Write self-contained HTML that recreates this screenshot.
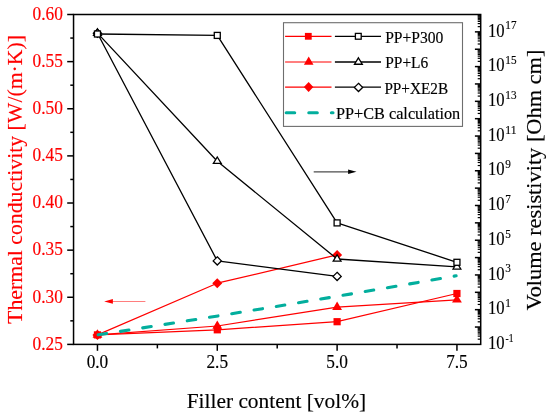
<!DOCTYPE html>
<html><head><meta charset="utf-8"><style>
html,body{margin:0;padding:0;background:#fff;width:550px;height:419px;overflow:hidden}
body{position:relative}
</style></head><body>
<svg width="550" height="419" viewBox="0 0 550 419" style="position:absolute;left:0;top:0">
<polyline points="97.46,334.90 217.28,329.80 337.11,321.70 456.94,293.50" fill="none" stroke="#ff0000" stroke-width="1.2" stroke-linejoin="round"/>
<polyline points="97.46,334.90 217.28,326.00 337.11,307.10 456.94,299.80" fill="none" stroke="#ff0000" stroke-width="1.2" stroke-linejoin="round"/>
<polyline points="97.46,334.90 217.28,283.20 337.11,254.90" fill="none" stroke="#ff0000" stroke-width="1.2" stroke-linejoin="round"/>
<rect x="93.86" y="331.30" width="7.20" height="7.20" fill="#ff0000"/>
<rect x="213.69" y="326.20" width="7.20" height="7.20" fill="#ff0000"/>
<rect x="333.51" y="318.10" width="7.20" height="7.20" fill="#ff0000"/>
<rect x="453.33" y="289.90" width="7.20" height="7.20" fill="#ff0000"/>
<polygon points="97.46,329.30 102.36,337.70 92.56,337.70" fill="#ff0000"/>
<polygon points="217.28,320.40 222.19,328.80 212.38,328.80" fill="#ff0000"/>
<polygon points="337.11,301.50 342.01,309.90 332.21,309.90" fill="#ff0000"/>
<polygon points="456.94,294.20 461.83,302.60 452.04,302.60" fill="#ff0000"/>
<polygon points="97.46,329.90 102.46,334.90 97.46,339.90 92.46,334.90" fill="#ff0000"/>
<polygon points="217.28,278.20 222.28,283.20 217.28,288.20 212.28,283.20" fill="#ff0000"/>
<polygon points="337.11,249.90 342.11,254.90 337.11,259.90 332.11,254.90" fill="#ff0000"/>
<path d="M97.46,334.9 Q276.8,307.3 456.1,275.8" fill="none" stroke="#02ae9d" stroke-width="3.1" stroke-linecap="round" stroke-dasharray="8.6 13.95" stroke-dashoffset="-0.7"/>
<polyline points="97.46,33.30 217.28,260.90 337.11,276.40" fill="none" stroke="#000" stroke-width="1.3" stroke-linejoin="round"/>
<polygon points="97.46,29.20 101.56,33.30 97.46,37.40 93.36,33.30" fill="#fff" stroke="#000" stroke-width="1.3"/>
<polygon points="217.28,256.80 221.38,260.90 217.28,265.00 213.19,260.90" fill="#fff" stroke="#000" stroke-width="1.3"/>
<polygon points="337.11,272.30 341.21,276.40 337.11,280.50 333.01,276.40" fill="#fff" stroke="#000" stroke-width="1.3"/>
<polyline points="97.46,33.10 217.28,161.30 337.11,259.00 456.94,266.90" fill="none" stroke="#000" stroke-width="1.3" stroke-linejoin="round"/>
<polygon points="97.46,28.83 101.36,35.23 93.56,35.23" fill="#fff" stroke="#000" stroke-width="1.3" stroke-linejoin="miter"/>
<polygon points="217.28,157.03 221.19,163.43 213.38,163.43" fill="#fff" stroke="#000" stroke-width="1.3" stroke-linejoin="miter"/>
<polygon points="337.11,254.73 341.01,261.13 333.21,261.13" fill="#fff" stroke="#000" stroke-width="1.3" stroke-linejoin="miter"/>
<polygon points="456.94,262.63 460.83,269.03 453.04,269.03" fill="#fff" stroke="#000" stroke-width="1.3" stroke-linejoin="miter"/>
<polyline points="97.46,34.00 217.28,35.40 337.11,222.90 456.94,262.30" fill="none" stroke="#000" stroke-width="1.3" stroke-linejoin="round"/>
<rect x="94.46" y="31.00" width="6.00" height="6.00" fill="#fff" stroke="#000" stroke-width="1.3"/>
<rect x="214.28" y="32.40" width="6.00" height="6.00" fill="#fff" stroke="#000" stroke-width="1.3"/>
<rect x="334.11" y="219.90" width="6.00" height="6.00" fill="#fff" stroke="#000" stroke-width="1.3"/>
<rect x="453.94" y="259.30" width="6.00" height="6.00" fill="#fff" stroke="#000" stroke-width="1.3"/>
<line x1="145.4" y1="301.45" x2="111" y2="301.45" stroke="#ff0000" stroke-width="1.1" opacity="0.5"/>
<polygon points="104.2,301.45 112.9,299.1 112.9,303.8" fill="#ff0000"/>
<line x1="313.7" y1="171.8" x2="350" y2="171.8" stroke="#000" stroke-width="1.3" opacity="0.7"/>
<polygon points="356.5,171.8 348.1,169.6 348.1,174.0" fill="#000"/>
<rect x="73.55" y="14.5" width="407.15" height="329.90" fill="none" stroke="#000" stroke-width="1.5"/>
<line x1="67.2" y1="344.40" x2="73.55" y2="344.40" stroke="#000" stroke-width="1.5"/>
<line x1="67.2" y1="297.27" x2="73.55" y2="297.27" stroke="#000" stroke-width="1.5"/>
<line x1="67.2" y1="250.14" x2="73.55" y2="250.14" stroke="#000" stroke-width="1.5"/>
<line x1="67.2" y1="203.01" x2="73.55" y2="203.01" stroke="#000" stroke-width="1.5"/>
<line x1="67.2" y1="155.89" x2="73.55" y2="155.89" stroke="#000" stroke-width="1.5"/>
<line x1="67.2" y1="108.76" x2="73.55" y2="108.76" stroke="#000" stroke-width="1.5"/>
<line x1="67.2" y1="61.63" x2="73.55" y2="61.63" stroke="#000" stroke-width="1.5"/>
<line x1="67.2" y1="14.50" x2="73.55" y2="14.50" stroke="#000" stroke-width="1.5"/>
<line x1="70.3" y1="320.84" x2="73.55" y2="320.84" stroke="#000" stroke-width="1.5"/>
<line x1="70.3" y1="273.71" x2="73.55" y2="273.71" stroke="#000" stroke-width="1.5"/>
<line x1="70.3" y1="226.58" x2="73.55" y2="226.58" stroke="#000" stroke-width="1.5"/>
<line x1="70.3" y1="179.45" x2="73.55" y2="179.45" stroke="#000" stroke-width="1.5"/>
<line x1="70.3" y1="132.32" x2="73.55" y2="132.32" stroke="#000" stroke-width="1.5"/>
<line x1="70.3" y1="85.19" x2="73.55" y2="85.19" stroke="#000" stroke-width="1.5"/>
<line x1="70.3" y1="38.06" x2="73.55" y2="38.06" stroke="#000" stroke-width="1.5"/>
<line x1="97.46" y1="344.4" x2="97.46" y2="350.8" stroke="#000" stroke-width="1.5"/>
<line x1="217.28" y1="344.4" x2="217.28" y2="350.8" stroke="#000" stroke-width="1.5"/>
<line x1="337.11" y1="344.4" x2="337.11" y2="350.8" stroke="#000" stroke-width="1.5"/>
<line x1="456.94" y1="344.4" x2="456.94" y2="350.8" stroke="#000" stroke-width="1.5"/>
<line x1="157.37" y1="344.4" x2="157.37" y2="348.4" stroke="#000" stroke-width="1.5"/>
<line x1="277.20" y1="344.4" x2="277.20" y2="348.4" stroke="#000" stroke-width="1.5"/>
<line x1="397.02" y1="344.4" x2="397.02" y2="348.4" stroke="#000" stroke-width="1.5"/>
<line x1="477.70" y1="339.17" x2="480.7" y2="339.17" stroke="#000" stroke-width="1.2"/>
<line x1="477.70" y1="336.12" x2="480.7" y2="336.12" stroke="#000" stroke-width="1.2"/>
<line x1="477.70" y1="333.95" x2="480.7" y2="333.95" stroke="#000" stroke-width="1.2"/>
<line x1="477.70" y1="332.26" x2="480.7" y2="332.26" stroke="#000" stroke-width="1.2"/>
<line x1="477.70" y1="330.89" x2="480.7" y2="330.89" stroke="#000" stroke-width="1.2"/>
<line x1="477.70" y1="329.73" x2="480.7" y2="329.73" stroke="#000" stroke-width="1.2"/>
<line x1="477.70" y1="328.72" x2="480.7" y2="328.72" stroke="#000" stroke-width="1.2"/>
<line x1="477.70" y1="327.83" x2="480.7" y2="327.83" stroke="#000" stroke-width="1.2"/>
<line x1="474.90" y1="327.04" x2="480.7" y2="327.04" stroke="#000" stroke-width="1.5"/>
<line x1="477.70" y1="321.81" x2="480.7" y2="321.81" stroke="#000" stroke-width="1.2"/>
<line x1="477.70" y1="318.75" x2="480.7" y2="318.75" stroke="#000" stroke-width="1.2"/>
<line x1="477.70" y1="316.58" x2="480.7" y2="316.58" stroke="#000" stroke-width="1.2"/>
<line x1="477.70" y1="314.90" x2="480.7" y2="314.90" stroke="#000" stroke-width="1.2"/>
<line x1="477.70" y1="313.53" x2="480.7" y2="313.53" stroke="#000" stroke-width="1.2"/>
<line x1="477.70" y1="312.36" x2="480.7" y2="312.36" stroke="#000" stroke-width="1.2"/>
<line x1="477.70" y1="311.36" x2="480.7" y2="311.36" stroke="#000" stroke-width="1.2"/>
<line x1="477.70" y1="310.47" x2="480.7" y2="310.47" stroke="#000" stroke-width="1.2"/>
<line x1="474.90" y1="309.67" x2="480.7" y2="309.67" stroke="#000" stroke-width="1.5"/>
<line x1="477.70" y1="304.45" x2="480.7" y2="304.45" stroke="#000" stroke-width="1.2"/>
<line x1="477.70" y1="301.39" x2="480.7" y2="301.39" stroke="#000" stroke-width="1.2"/>
<line x1="477.70" y1="299.22" x2="480.7" y2="299.22" stroke="#000" stroke-width="1.2"/>
<line x1="477.70" y1="297.54" x2="480.7" y2="297.54" stroke="#000" stroke-width="1.2"/>
<line x1="477.70" y1="296.16" x2="480.7" y2="296.16" stroke="#000" stroke-width="1.2"/>
<line x1="477.70" y1="295.00" x2="480.7" y2="295.00" stroke="#000" stroke-width="1.2"/>
<line x1="477.70" y1="293.99" x2="480.7" y2="293.99" stroke="#000" stroke-width="1.2"/>
<line x1="477.70" y1="293.11" x2="480.7" y2="293.11" stroke="#000" stroke-width="1.2"/>
<line x1="474.90" y1="292.31" x2="480.7" y2="292.31" stroke="#000" stroke-width="1.5"/>
<line x1="477.70" y1="287.08" x2="480.7" y2="287.08" stroke="#000" stroke-width="1.2"/>
<line x1="477.70" y1="284.03" x2="480.7" y2="284.03" stroke="#000" stroke-width="1.2"/>
<line x1="477.70" y1="281.86" x2="480.7" y2="281.86" stroke="#000" stroke-width="1.2"/>
<line x1="477.70" y1="280.17" x2="480.7" y2="280.17" stroke="#000" stroke-width="1.2"/>
<line x1="477.70" y1="278.80" x2="480.7" y2="278.80" stroke="#000" stroke-width="1.2"/>
<line x1="477.70" y1="277.64" x2="480.7" y2="277.64" stroke="#000" stroke-width="1.2"/>
<line x1="477.70" y1="276.63" x2="480.7" y2="276.63" stroke="#000" stroke-width="1.2"/>
<line x1="477.70" y1="275.74" x2="480.7" y2="275.74" stroke="#000" stroke-width="1.2"/>
<line x1="474.90" y1="274.95" x2="480.7" y2="274.95" stroke="#000" stroke-width="1.5"/>
<line x1="477.70" y1="269.72" x2="480.7" y2="269.72" stroke="#000" stroke-width="1.2"/>
<line x1="477.70" y1="266.66" x2="480.7" y2="266.66" stroke="#000" stroke-width="1.2"/>
<line x1="477.70" y1="264.49" x2="480.7" y2="264.49" stroke="#000" stroke-width="1.2"/>
<line x1="477.70" y1="262.81" x2="480.7" y2="262.81" stroke="#000" stroke-width="1.2"/>
<line x1="477.70" y1="261.44" x2="480.7" y2="261.44" stroke="#000" stroke-width="1.2"/>
<line x1="477.70" y1="260.27" x2="480.7" y2="260.27" stroke="#000" stroke-width="1.2"/>
<line x1="477.70" y1="259.27" x2="480.7" y2="259.27" stroke="#000" stroke-width="1.2"/>
<line x1="477.70" y1="258.38" x2="480.7" y2="258.38" stroke="#000" stroke-width="1.2"/>
<line x1="474.90" y1="257.58" x2="480.7" y2="257.58" stroke="#000" stroke-width="1.5"/>
<line x1="477.70" y1="252.36" x2="480.7" y2="252.36" stroke="#000" stroke-width="1.2"/>
<line x1="477.70" y1="249.30" x2="480.7" y2="249.30" stroke="#000" stroke-width="1.2"/>
<line x1="477.70" y1="247.13" x2="480.7" y2="247.13" stroke="#000" stroke-width="1.2"/>
<line x1="477.70" y1="245.45" x2="480.7" y2="245.45" stroke="#000" stroke-width="1.2"/>
<line x1="477.70" y1="244.07" x2="480.7" y2="244.07" stroke="#000" stroke-width="1.2"/>
<line x1="477.70" y1="242.91" x2="480.7" y2="242.91" stroke="#000" stroke-width="1.2"/>
<line x1="477.70" y1="241.90" x2="480.7" y2="241.90" stroke="#000" stroke-width="1.2"/>
<line x1="477.70" y1="241.02" x2="480.7" y2="241.02" stroke="#000" stroke-width="1.2"/>
<line x1="474.90" y1="240.22" x2="480.7" y2="240.22" stroke="#000" stroke-width="1.5"/>
<line x1="477.70" y1="234.99" x2="480.7" y2="234.99" stroke="#000" stroke-width="1.2"/>
<line x1="477.70" y1="231.94" x2="480.7" y2="231.94" stroke="#000" stroke-width="1.2"/>
<line x1="477.70" y1="229.77" x2="480.7" y2="229.77" stroke="#000" stroke-width="1.2"/>
<line x1="477.70" y1="228.08" x2="480.7" y2="228.08" stroke="#000" stroke-width="1.2"/>
<line x1="477.70" y1="226.71" x2="480.7" y2="226.71" stroke="#000" stroke-width="1.2"/>
<line x1="477.70" y1="225.55" x2="480.7" y2="225.55" stroke="#000" stroke-width="1.2"/>
<line x1="477.70" y1="224.54" x2="480.7" y2="224.54" stroke="#000" stroke-width="1.2"/>
<line x1="477.70" y1="223.65" x2="480.7" y2="223.65" stroke="#000" stroke-width="1.2"/>
<line x1="474.90" y1="222.86" x2="480.7" y2="222.86" stroke="#000" stroke-width="1.5"/>
<line x1="477.70" y1="217.63" x2="480.7" y2="217.63" stroke="#000" stroke-width="1.2"/>
<line x1="477.70" y1="214.57" x2="480.7" y2="214.57" stroke="#000" stroke-width="1.2"/>
<line x1="477.70" y1="212.40" x2="480.7" y2="212.40" stroke="#000" stroke-width="1.2"/>
<line x1="477.70" y1="210.72" x2="480.7" y2="210.72" stroke="#000" stroke-width="1.2"/>
<line x1="477.70" y1="209.35" x2="480.7" y2="209.35" stroke="#000" stroke-width="1.2"/>
<line x1="477.70" y1="208.18" x2="480.7" y2="208.18" stroke="#000" stroke-width="1.2"/>
<line x1="477.70" y1="207.18" x2="480.7" y2="207.18" stroke="#000" stroke-width="1.2"/>
<line x1="477.70" y1="206.29" x2="480.7" y2="206.29" stroke="#000" stroke-width="1.2"/>
<line x1="474.90" y1="205.49" x2="480.7" y2="205.49" stroke="#000" stroke-width="1.5"/>
<line x1="477.70" y1="200.27" x2="480.7" y2="200.27" stroke="#000" stroke-width="1.2"/>
<line x1="477.70" y1="197.21" x2="480.7" y2="197.21" stroke="#000" stroke-width="1.2"/>
<line x1="477.70" y1="195.04" x2="480.7" y2="195.04" stroke="#000" stroke-width="1.2"/>
<line x1="477.70" y1="193.36" x2="480.7" y2="193.36" stroke="#000" stroke-width="1.2"/>
<line x1="477.70" y1="191.98" x2="480.7" y2="191.98" stroke="#000" stroke-width="1.2"/>
<line x1="477.70" y1="190.82" x2="480.7" y2="190.82" stroke="#000" stroke-width="1.2"/>
<line x1="477.70" y1="189.81" x2="480.7" y2="189.81" stroke="#000" stroke-width="1.2"/>
<line x1="477.70" y1="188.93" x2="480.7" y2="188.93" stroke="#000" stroke-width="1.2"/>
<line x1="474.90" y1="188.13" x2="480.7" y2="188.13" stroke="#000" stroke-width="1.5"/>
<line x1="477.70" y1="182.90" x2="480.7" y2="182.90" stroke="#000" stroke-width="1.2"/>
<line x1="477.70" y1="179.85" x2="480.7" y2="179.85" stroke="#000" stroke-width="1.2"/>
<line x1="477.70" y1="177.68" x2="480.7" y2="177.68" stroke="#000" stroke-width="1.2"/>
<line x1="477.70" y1="176.00" x2="480.7" y2="176.00" stroke="#000" stroke-width="1.2"/>
<line x1="477.70" y1="174.62" x2="480.7" y2="174.62" stroke="#000" stroke-width="1.2"/>
<line x1="477.70" y1="173.46" x2="480.7" y2="173.46" stroke="#000" stroke-width="1.2"/>
<line x1="477.70" y1="172.45" x2="480.7" y2="172.45" stroke="#000" stroke-width="1.2"/>
<line x1="477.70" y1="171.56" x2="480.7" y2="171.56" stroke="#000" stroke-width="1.2"/>
<line x1="474.90" y1="170.77" x2="480.7" y2="170.77" stroke="#000" stroke-width="1.5"/>
<line x1="477.70" y1="165.54" x2="480.7" y2="165.54" stroke="#000" stroke-width="1.2"/>
<line x1="477.70" y1="162.48" x2="480.7" y2="162.48" stroke="#000" stroke-width="1.2"/>
<line x1="477.70" y1="160.31" x2="480.7" y2="160.31" stroke="#000" stroke-width="1.2"/>
<line x1="477.70" y1="158.63" x2="480.7" y2="158.63" stroke="#000" stroke-width="1.2"/>
<line x1="477.70" y1="157.26" x2="480.7" y2="157.26" stroke="#000" stroke-width="1.2"/>
<line x1="477.70" y1="156.09" x2="480.7" y2="156.09" stroke="#000" stroke-width="1.2"/>
<line x1="477.70" y1="155.09" x2="480.7" y2="155.09" stroke="#000" stroke-width="1.2"/>
<line x1="477.70" y1="154.20" x2="480.7" y2="154.20" stroke="#000" stroke-width="1.2"/>
<line x1="474.90" y1="153.41" x2="480.7" y2="153.41" stroke="#000" stroke-width="1.5"/>
<line x1="477.70" y1="148.18" x2="480.7" y2="148.18" stroke="#000" stroke-width="1.2"/>
<line x1="477.70" y1="145.12" x2="480.7" y2="145.12" stroke="#000" stroke-width="1.2"/>
<line x1="477.70" y1="142.95" x2="480.7" y2="142.95" stroke="#000" stroke-width="1.2"/>
<line x1="477.70" y1="141.27" x2="480.7" y2="141.27" stroke="#000" stroke-width="1.2"/>
<line x1="477.70" y1="139.89" x2="480.7" y2="139.89" stroke="#000" stroke-width="1.2"/>
<line x1="477.70" y1="138.73" x2="480.7" y2="138.73" stroke="#000" stroke-width="1.2"/>
<line x1="477.70" y1="137.72" x2="480.7" y2="137.72" stroke="#000" stroke-width="1.2"/>
<line x1="477.70" y1="136.84" x2="480.7" y2="136.84" stroke="#000" stroke-width="1.2"/>
<line x1="474.90" y1="136.04" x2="480.7" y2="136.04" stroke="#000" stroke-width="1.5"/>
<line x1="477.70" y1="130.82" x2="480.7" y2="130.82" stroke="#000" stroke-width="1.2"/>
<line x1="477.70" y1="127.76" x2="480.7" y2="127.76" stroke="#000" stroke-width="1.2"/>
<line x1="477.70" y1="125.59" x2="480.7" y2="125.59" stroke="#000" stroke-width="1.2"/>
<line x1="477.70" y1="123.91" x2="480.7" y2="123.91" stroke="#000" stroke-width="1.2"/>
<line x1="477.70" y1="122.53" x2="480.7" y2="122.53" stroke="#000" stroke-width="1.2"/>
<line x1="477.70" y1="121.37" x2="480.7" y2="121.37" stroke="#000" stroke-width="1.2"/>
<line x1="477.70" y1="120.36" x2="480.7" y2="120.36" stroke="#000" stroke-width="1.2"/>
<line x1="477.70" y1="119.47" x2="480.7" y2="119.47" stroke="#000" stroke-width="1.2"/>
<line x1="474.90" y1="118.68" x2="480.7" y2="118.68" stroke="#000" stroke-width="1.5"/>
<line x1="477.70" y1="113.45" x2="480.7" y2="113.45" stroke="#000" stroke-width="1.2"/>
<line x1="477.70" y1="110.39" x2="480.7" y2="110.39" stroke="#000" stroke-width="1.2"/>
<line x1="477.70" y1="108.23" x2="480.7" y2="108.23" stroke="#000" stroke-width="1.2"/>
<line x1="477.70" y1="106.54" x2="480.7" y2="106.54" stroke="#000" stroke-width="1.2"/>
<line x1="477.70" y1="105.17" x2="480.7" y2="105.17" stroke="#000" stroke-width="1.2"/>
<line x1="477.70" y1="104.01" x2="480.7" y2="104.01" stroke="#000" stroke-width="1.2"/>
<line x1="477.70" y1="103.00" x2="480.7" y2="103.00" stroke="#000" stroke-width="1.2"/>
<line x1="477.70" y1="102.11" x2="480.7" y2="102.11" stroke="#000" stroke-width="1.2"/>
<line x1="474.90" y1="101.32" x2="480.7" y2="101.32" stroke="#000" stroke-width="1.5"/>
<line x1="477.70" y1="96.09" x2="480.7" y2="96.09" stroke="#000" stroke-width="1.2"/>
<line x1="477.70" y1="93.03" x2="480.7" y2="93.03" stroke="#000" stroke-width="1.2"/>
<line x1="477.70" y1="90.86" x2="480.7" y2="90.86" stroke="#000" stroke-width="1.2"/>
<line x1="477.70" y1="89.18" x2="480.7" y2="89.18" stroke="#000" stroke-width="1.2"/>
<line x1="477.70" y1="87.80" x2="480.7" y2="87.80" stroke="#000" stroke-width="1.2"/>
<line x1="477.70" y1="86.64" x2="480.7" y2="86.64" stroke="#000" stroke-width="1.2"/>
<line x1="477.70" y1="85.64" x2="480.7" y2="85.64" stroke="#000" stroke-width="1.2"/>
<line x1="477.70" y1="84.75" x2="480.7" y2="84.75" stroke="#000" stroke-width="1.2"/>
<line x1="474.90" y1="83.95" x2="480.7" y2="83.95" stroke="#000" stroke-width="1.5"/>
<line x1="477.70" y1="78.73" x2="480.7" y2="78.73" stroke="#000" stroke-width="1.2"/>
<line x1="477.70" y1="75.67" x2="480.7" y2="75.67" stroke="#000" stroke-width="1.2"/>
<line x1="477.70" y1="73.50" x2="480.7" y2="73.50" stroke="#000" stroke-width="1.2"/>
<line x1="477.70" y1="71.82" x2="480.7" y2="71.82" stroke="#000" stroke-width="1.2"/>
<line x1="477.70" y1="70.44" x2="480.7" y2="70.44" stroke="#000" stroke-width="1.2"/>
<line x1="477.70" y1="69.28" x2="480.7" y2="69.28" stroke="#000" stroke-width="1.2"/>
<line x1="477.70" y1="68.27" x2="480.7" y2="68.27" stroke="#000" stroke-width="1.2"/>
<line x1="477.70" y1="67.38" x2="480.7" y2="67.38" stroke="#000" stroke-width="1.2"/>
<line x1="474.90" y1="66.59" x2="480.7" y2="66.59" stroke="#000" stroke-width="1.5"/>
<line x1="477.70" y1="61.36" x2="480.7" y2="61.36" stroke="#000" stroke-width="1.2"/>
<line x1="477.70" y1="58.31" x2="480.7" y2="58.31" stroke="#000" stroke-width="1.2"/>
<line x1="477.70" y1="56.14" x2="480.7" y2="56.14" stroke="#000" stroke-width="1.2"/>
<line x1="477.70" y1="54.45" x2="480.7" y2="54.45" stroke="#000" stroke-width="1.2"/>
<line x1="477.70" y1="53.08" x2="480.7" y2="53.08" stroke="#000" stroke-width="1.2"/>
<line x1="477.70" y1="51.92" x2="480.7" y2="51.92" stroke="#000" stroke-width="1.2"/>
<line x1="477.70" y1="50.91" x2="480.7" y2="50.91" stroke="#000" stroke-width="1.2"/>
<line x1="477.70" y1="50.02" x2="480.7" y2="50.02" stroke="#000" stroke-width="1.2"/>
<line x1="474.90" y1="49.23" x2="480.7" y2="49.23" stroke="#000" stroke-width="1.5"/>
<line x1="477.70" y1="44.00" x2="480.7" y2="44.00" stroke="#000" stroke-width="1.2"/>
<line x1="477.70" y1="40.94" x2="480.7" y2="40.94" stroke="#000" stroke-width="1.2"/>
<line x1="477.70" y1="38.77" x2="480.7" y2="38.77" stroke="#000" stroke-width="1.2"/>
<line x1="477.70" y1="37.09" x2="480.7" y2="37.09" stroke="#000" stroke-width="1.2"/>
<line x1="477.70" y1="35.72" x2="480.7" y2="35.72" stroke="#000" stroke-width="1.2"/>
<line x1="477.70" y1="34.55" x2="480.7" y2="34.55" stroke="#000" stroke-width="1.2"/>
<line x1="477.70" y1="33.55" x2="480.7" y2="33.55" stroke="#000" stroke-width="1.2"/>
<line x1="477.70" y1="32.66" x2="480.7" y2="32.66" stroke="#000" stroke-width="1.2"/>
<line x1="474.90" y1="31.86" x2="480.7" y2="31.86" stroke="#000" stroke-width="1.5"/>
<line x1="477.70" y1="26.64" x2="480.7" y2="26.64" stroke="#000" stroke-width="1.2"/>
<line x1="477.70" y1="23.58" x2="480.7" y2="23.58" stroke="#000" stroke-width="1.2"/>
<line x1="477.70" y1="21.41" x2="480.7" y2="21.41" stroke="#000" stroke-width="1.2"/>
<line x1="477.70" y1="19.73" x2="480.7" y2="19.73" stroke="#000" stroke-width="1.2"/>
<line x1="477.70" y1="18.35" x2="480.7" y2="18.35" stroke="#000" stroke-width="1.2"/>
<line x1="477.70" y1="17.19" x2="480.7" y2="17.19" stroke="#000" stroke-width="1.2"/>
<line x1="477.70" y1="16.18" x2="480.7" y2="16.18" stroke="#000" stroke-width="1.2"/>
<line x1="477.70" y1="15.29" x2="480.7" y2="15.29" stroke="#000" stroke-width="1.2"/>
<rect x="283.5" y="22.7" width="179" height="103.7" fill="#fff" stroke="#6e6e6e" stroke-width="1.1"/>
<line x1="285.1" y1="36.3" x2="331.5" y2="36.3" stroke="#ff0000" stroke-width="1.2"/>
<line x1="334.9" y1="36.3" x2="381" y2="36.3" stroke="#000" stroke-width="1.3"/>
<line x1="285.1" y1="62.0" x2="331.5" y2="62.0" stroke="#ff0000" stroke-width="1.2"/>
<line x1="334.9" y1="62.0" x2="381" y2="62.0" stroke="#000" stroke-width="1.3"/>
<line x1="285.1" y1="87.1" x2="331.5" y2="87.1" stroke="#ff0000" stroke-width="1.2"/>
<line x1="334.9" y1="87.1" x2="381" y2="87.1" stroke="#000" stroke-width="1.3"/>
<rect x="304.90" y="32.90" width="6.80" height="6.80" fill="#ff0000"/>
<rect x="355.40" y="33.40" width="5.80" height="5.80" fill="#fff" stroke="#000" stroke-width="1.3"/>
<polygon points="308.70,56.53 313.50,64.73 303.90,64.73" fill="#ff0000"/>
<polygon points="358.40,57.83 362.30,64.23 354.50,64.23" fill="#fff" stroke="#000" stroke-width="1.3" stroke-linejoin="miter"/>
<polygon points="308.60,81.90 313.30,87.00 308.60,92.10 303.90,87.00" fill="#ff0000"/>
<polygon points="358.50,83.30 362.60,87.40 358.50,91.50 354.40,87.40" fill="#fff" stroke="#000" stroke-width="1.3"/>
<line x1="286.2" y1="112.7" x2="333" y2="112.7" stroke="#02ae9d" stroke-width="3.1" stroke-linecap="round" stroke-dasharray="8.5 14.1"/>
<g font-family='"Liberation Serif", "DejaVu Serif", serif' stroke-width="0.15" stroke-linejoin="round">
<text x="62.9" y="349.70" font-size="18.4" fill="#ff0000" stroke="#ff0000" text-anchor="end" textLength="30.4" lengthAdjust="spacingAndGlyphs">0.25</text>
<text x="62.9" y="302.57" font-size="18.4" fill="#ff0000" stroke="#ff0000" text-anchor="end" textLength="30.4" lengthAdjust="spacingAndGlyphs">0.30</text>
<text x="62.9" y="255.44" font-size="18.4" fill="#ff0000" stroke="#ff0000" text-anchor="end" textLength="30.4" lengthAdjust="spacingAndGlyphs">0.35</text>
<text x="62.9" y="208.31" font-size="18.4" fill="#ff0000" stroke="#ff0000" text-anchor="end" textLength="30.4" lengthAdjust="spacingAndGlyphs">0.40</text>
<text x="62.9" y="161.19" font-size="18.4" fill="#ff0000" stroke="#ff0000" text-anchor="end" textLength="30.4" lengthAdjust="spacingAndGlyphs">0.45</text>
<text x="62.9" y="114.06" font-size="18.4" fill="#ff0000" stroke="#ff0000" text-anchor="end" textLength="30.4" lengthAdjust="spacingAndGlyphs">0.50</text>
<text x="62.9" y="66.93" font-size="18.4" fill="#ff0000" stroke="#ff0000" text-anchor="end" textLength="30.4" lengthAdjust="spacingAndGlyphs">0.55</text>
<text x="62.9" y="19.80" font-size="18.4" fill="#ff0000" stroke="#ff0000" text-anchor="end" textLength="30.4" lengthAdjust="spacingAndGlyphs">0.60</text>
<text x="97.46" y="367.5" font-size="18.2" fill="#000" stroke="#000" text-anchor="middle" textLength="21.6" lengthAdjust="spacingAndGlyphs">0.0</text>
<text x="217.28" y="367.5" font-size="18.2" fill="#000" stroke="#000" text-anchor="middle" textLength="21.6" lengthAdjust="spacingAndGlyphs">2.5</text>
<text x="337.11" y="367.5" font-size="18.2" fill="#000" stroke="#000" text-anchor="middle" textLength="21.6" lengthAdjust="spacingAndGlyphs">5.0</text>
<text x="456.94" y="367.5" font-size="18.2" fill="#000" stroke="#000" text-anchor="middle" textLength="21.6" lengthAdjust="spacingAndGlyphs">7.5</text>
<text x="487.9" y="349.10" font-size="18.2" fill="#000" stroke="#000" textLength="16.6" lengthAdjust="spacingAndGlyphs">10</text>
<text x="505.6" y="341.90" font-size="12.6" fill="#000" stroke="#000" textLength="8.0" lengthAdjust="spacingAndGlyphs">-1</text>
<text x="487.9" y="314.37" font-size="18.2" fill="#000" stroke="#000" textLength="16.6" lengthAdjust="spacingAndGlyphs">10</text>
<text x="505.3" y="307.17" font-size="12.6" fill="#000" stroke="#000" textLength="5.6" lengthAdjust="spacingAndGlyphs">1</text>
<text x="487.9" y="279.65" font-size="18.2" fill="#000" stroke="#000" textLength="16.6" lengthAdjust="spacingAndGlyphs">10</text>
<text x="505.3" y="272.45" font-size="12.6" fill="#000" stroke="#000" textLength="5.6" lengthAdjust="spacingAndGlyphs">3</text>
<text x="487.9" y="244.92" font-size="18.2" fill="#000" stroke="#000" textLength="16.6" lengthAdjust="spacingAndGlyphs">10</text>
<text x="505.3" y="237.72" font-size="12.6" fill="#000" stroke="#000" textLength="5.6" lengthAdjust="spacingAndGlyphs">5</text>
<text x="487.9" y="210.19" font-size="18.2" fill="#000" stroke="#000" textLength="16.6" lengthAdjust="spacingAndGlyphs">10</text>
<text x="505.3" y="202.99" font-size="12.6" fill="#000" stroke="#000" textLength="5.6" lengthAdjust="spacingAndGlyphs">7</text>
<text x="487.9" y="175.47" font-size="18.2" fill="#000" stroke="#000" textLength="16.6" lengthAdjust="spacingAndGlyphs">10</text>
<text x="505.3" y="168.27" font-size="12.6" fill="#000" stroke="#000" textLength="5.6" lengthAdjust="spacingAndGlyphs">9</text>
<text x="487.9" y="140.74" font-size="18.2" fill="#000" stroke="#000" textLength="16.6" lengthAdjust="spacingAndGlyphs">10</text>
<text x="505.3" y="133.54" font-size="12.6" fill="#000" stroke="#000" textLength="11.2" lengthAdjust="spacingAndGlyphs">11</text>
<text x="487.9" y="106.02" font-size="18.2" fill="#000" stroke="#000" textLength="16.6" lengthAdjust="spacingAndGlyphs">10</text>
<text x="505.3" y="98.82" font-size="12.6" fill="#000" stroke="#000" textLength="11.2" lengthAdjust="spacingAndGlyphs">13</text>
<text x="487.9" y="71.29" font-size="18.2" fill="#000" stroke="#000" textLength="16.6" lengthAdjust="spacingAndGlyphs">10</text>
<text x="505.3" y="64.09" font-size="12.6" fill="#000" stroke="#000" textLength="11.2" lengthAdjust="spacingAndGlyphs">15</text>
<text x="487.9" y="36.56" font-size="18.2" fill="#000" stroke="#000" textLength="16.6" lengthAdjust="spacingAndGlyphs">10</text>
<text x="505.3" y="29.36" font-size="12.6" fill="#000" stroke="#000" textLength="11.2" lengthAdjust="spacingAndGlyphs">17</text>
<text x="385.2" y="42.8" font-size="15.7" fill="#000" stroke="#000" text-anchor="start" textLength="58.2" lengthAdjust="spacingAndGlyphs">PP+P300</text>
<text x="385.2" y="68.4" font-size="15.7" fill="#000" stroke="#000" text-anchor="start" textLength="43.1" lengthAdjust="spacingAndGlyphs">PP+L6</text>
<text x="384.4" y="93.6" font-size="15.7" fill="#000" stroke="#000" text-anchor="start" textLength="63.7" lengthAdjust="spacingAndGlyphs">PP+XE2B</text>
<text x="336.0" y="118.9" font-size="15.7" fill="#000" stroke="#000" text-anchor="start" textLength="124.2" lengthAdjust="spacingAndGlyphs">PP+CB calculation</text>
<text x="276.4" y="407.9" font-size="21.4" fill="#000" stroke="#000" text-anchor="middle">Filler content [vol%]</text>
<text transform="translate(21.7,179.4) rotate(-90)" x="0" y="0" font-size="21.4" fill="#ff0000" stroke="#ff0000" text-anchor="middle" textLength="289" lengthAdjust="spacingAndGlyphs">Thermal conductivity [W/(m·K)]</text>
<text transform="translate(540.9,180.1) rotate(-90)" x="0" y="0" font-size="22" fill="#000" stroke="#000" text-anchor="middle" textLength="261" lengthAdjust="spacingAndGlyphs">Volume resistivity [Ohm cm]</text>
</g>
</svg>
</body></html>
